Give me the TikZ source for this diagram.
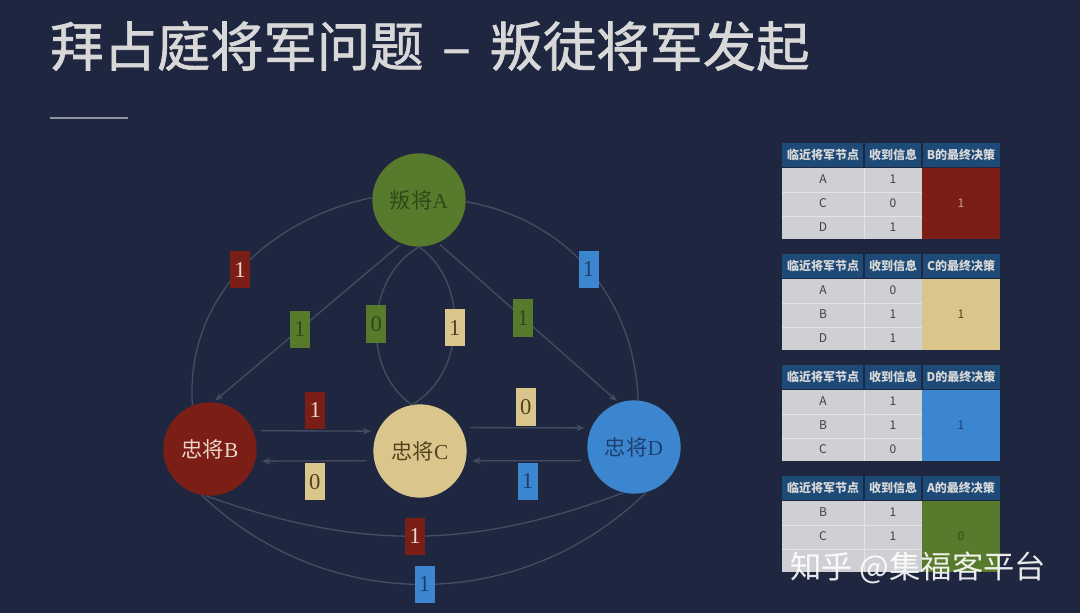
\documentclass[tikz,border=0pt]{standalone}
\usepackage{fontspec}
\setmainfont{Liberation Serif}
\newfontfamily\cjk{Noto Sans CJK SC}
\newfontfamily\cjktitle[FakeBold=1.2]{Noto Sans CJK SC}
\usetikzlibrary{arrows.meta, positioning}
\definecolor{bg}{RGB}{31, 39, 64}
\definecolor{titlegray}{RGB}{216, 216, 216}
\definecolor{edgegray}{RGB}{68, 76, 96}
\definecolor{genA}{RGB}{88, 122, 44}
\definecolor{genB}{RGB}{122, 30, 22}
\definecolor{genC}{RGB}{218, 198, 140}
\definecolor{genD}{RGB}{60, 134, 208}
\definecolor{txtA}{RGB}{48, 72, 26}
\definecolor{txtB}{RGB}{236, 214, 204}
\definecolor{txtC}{RGB}{84, 66, 30}
\definecolor{txtD}{RGB}{30, 62, 112}
\definecolor{headblue}{RGB}{30, 74, 120}
\definecolor{cellgray}{RGB}{206, 208, 211}
\tikzstyle{general} = [circle, minimum size=70pt, inner sep=0pt, font=\fontsize{16}{16}\selectfont]
\tikzstyle{link}    = [draw=edgegray, line width=1pt]
\tikzstyle{arrow}   = [link, -{Stealth[length=6pt, width=5pt]}, shorten >=5pt, shorten <=4pt]
\tikzstyle{msg}     = [rectangle, minimum width=15pt, minimum height=28pt, inner sep=0pt,
                       font=\fontsize{17}{17}\selectfont]
\tikzstyle{msgA}    = [msg, fill=genA, text=txtA]
\tikzstyle{msgB}    = [msg, fill=genB, text=txtB]
\tikzstyle{msgC}    = [msg, fill=genC, text=txtC]
\tikzstyle{msgD}    = [msg, fill=genD, text=txtD]
\tikzstyle{headtext} = [text=titlegray, font=\cjk\fontsize{9}{9}\selectfont\bfseries]
\tikzstyle{celltext} = [text=black!75, font=\cjk\fontsize{9}{9}\selectfont]
% #1 top, #2 general, #3 colour, #4 rows, #5 decision, #6 decision text colour
\newcommand{\decisiontable}[6]{%
  \fill[headblue] (782,-#1) rectangle (1000,-#1-24);
  \draw[bg, line width=1pt] (864,-#1) -- (864,-#1-24) (922,-#1) -- (922,-#1-24);
  \fill[cellgray] (782,-#1-25) rectangle (922,-#1-96);
  \fill[#3] (922,-#1-25) rectangle (1000,-#1-96);
  \draw[white!80!gray, line width=0.5pt] (782,-#1-49) -- (922,-#1-49)
        (782,-#1-73) -- (922,-#1-73) (864,-#1-25) -- (864,-#1-96);
  \node (#2h1) [headtext] at (823,-#1-12) {临近将军节点};
  \node (#2h2) [headtext] at (893,-#1-12) {收到信息};
  \node (#2h3) [headtext] at (961,-#1-12) {#2的最终决策};
  \foreach \r/\v [count=\i] in {#4} {
    \node (#2r\i) [celltext] at (823,-#1-12.5-24*\i) {\r};
    \node (#2v\i) [celltext] at (893,-#1-12.5-24*\i) {\v};
  }
  \node (#2dec) [celltext, text=#6] at (961,-#1-60) {#5};
}

\begin{document}
\begin{tikzpicture}[x=0.75pt, y=0.75pt]
  \fill[bg] (0,0) rectangle (1080,-613);
  \useasboundingbox (0,0) rectangle (1080,-613);

  \node (title) [anchor=west, inner sep=0pt, text=titlegray, font=\cjktitle\fontsize{40}{40}\selectfont]
        at (50,-46) {拜占庭将军问题\hspace{0.35em}–\hspace{0.35em}叛徒将军发起};
  \draw[edgegray!60!white, line width=1.2pt] (50,-118) -- (128,-118);

  \node (A) [general, fill=genA, text=txtA] at (419,-200) {{\cjk 叛将}A};
  \node (B) [general, fill=genB, text=txtB] at (210,-449) {{\cjk 忠将}B};
  \node (C) [general, fill=genC, text=txtC] at (420,-451) {{\cjk 忠将}C};
  \node (D) [general, fill=genD, text=txtD] at (634,-447) {{\cjk 忠将}D};

  % A sends
  \draw [arrow, shorten <=2pt, shorten >=2pt] (A.-112) -- node[msgA, pos=.54] {1} (B.86);
  \draw [link] (A.-90) to[bend right=58] node[msgA] {0} (C.100);
  \draw [arrow, shorten <=2pt, shorten >=2pt] (A.-66) -- node[msgA, pos=.47] {1} (D.109);
  % to A
  \draw [link] (B.112) to[out=94, in=192] node[msgB] {1} (A.177);
  \draw [link] (C.100) to[bend right=58] node[msgC] {1} (A.-90);
  \draw [link] (D.85) to[out=92, in=-10] node[msgD] {1} (A.-2);
  % between the loyal generals
  \draw [arrow, shorten <=6pt] (B.23) -- node[msgB, above=1pt] {1} (C.155);
  \draw [arrow, shorten <=6pt] (C.192) -- node[msgC, below=1pt] {0} (B.-15);
  \draw [arrow, shorten <=7pt] (C.30) -- node[msgC, above=1pt] {0} (D.156);
  \draw [arrow, shorten <=6pt] (D.197) -- node[msgD, below=1pt] {1} (C.-12);
  \draw [link] (B.-95) to[bend right=20] node[msgB] {1} (D.-103);
  \draw [link] (B.-100) to[bend right=44] node[msgD] {1} (D.-75);

  \decisiontable{143}{B}{genB}{A/1, C/0, D/1}{1}{txtB!70!genB}
  \decisiontable{254}{C}{genC}{A/0, B/1, D/1}{1}{txtC}
  \decisiontable{365}{D}{genD}{A/1, B/1, C/0}{1}{txtD}
  \decisiontable{476}{A}{genA}{B/1, C/1}{0}{txtA}

  \node (mark) [text=white, opacity=.9, font=\cjk\fontsize{23.5}{23.5}\selectfont]
        at (918,-568) {知乎 @集福客平台};
\end{tikzpicture}
\end{document}
